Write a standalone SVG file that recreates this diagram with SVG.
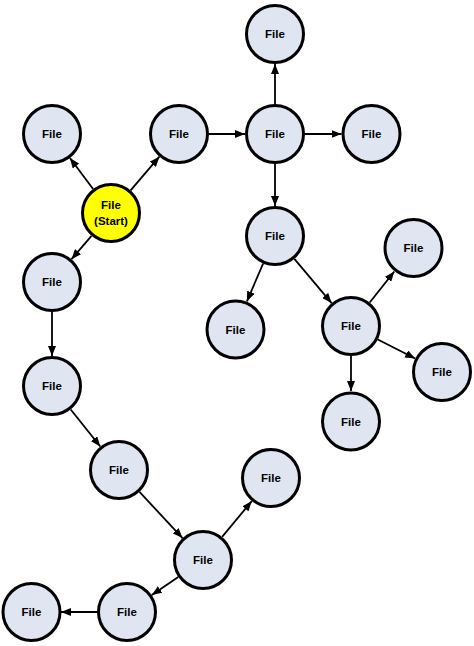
<svg xmlns="http://www.w3.org/2000/svg" width="474" height="646" viewBox="0 0 474 646">
<style>
.n{fill:#dfe6f1;stroke:#000;stroke-width:3}
.s{fill:#ffff00;stroke:#000;stroke-width:3}
.t{font-family:"Liberation Sans",Arial,sans-serif;font-weight:bold;font-size:11.5px;text-anchor:middle;fill:#000}
.e line{stroke:#000;stroke-width:1.8;marker-end:url(#a)}
</style>
<defs>
<marker id="a" markerUnits="userSpaceOnUse" markerWidth="10" markerHeight="8" refX="10" refY="4" orient="auto">
<path d="M0,0 L10,4 L0,8 z" fill="#000"/>
</marker>
</defs>
<g id="connectors" class="e">
<line x1="93.1" y1="189" x2="69.9" y2="158"/>
<line x1="130.6" y1="190.3" x2="159.4" y2="156.7"/>
<line x1="91.5" y1="235.8" x2="71.5" y2="259.2"/>
<line x1="209" y1="134" x2="245" y2="134"/>
<line x1="275" y1="104" x2="275" y2="64"/>
<line x1="305" y1="134" x2="341.5" y2="134"/>
<line x1="275" y1="164" x2="275" y2="206"/>
<line x1="263.1" y1="263.6" x2="246.9" y2="301.4"/>
<line x1="294.4" y1="258.9" x2="331.6" y2="303.1"/>
<line x1="369.7" y1="302.5" x2="394.3" y2="271.5"/>
<line x1="377.8" y1="339.5" x2="415.2" y2="358.5"/>
<line x1="351" y1="356" x2="351" y2="391"/>
<line x1="52" y1="312" x2="52" y2="356"/>
<line x1="70.7" y1="409.5" x2="100.3" y2="446.5"/>
<line x1="139.5" y1="491.9" x2="182.5" y2="538.1"/>
<line x1="222.1" y1="536.9" x2="251.8" y2="501.1"/>
<line x1="178.3" y1="577" x2="151.8" y2="595.1"/>
<line x1="97" y1="612" x2="61" y2="612"/>
</g>
<g id="start"><circle class="s" cx="111" cy="213" r="28.5"/><text class="t" x="111" y="209">File</text><text class="t" x="111" y="225">(Start)</text></g>
<g id="n1"><circle class="n" cx="52" cy="134" r="28.5"/><text class="t" x="52" y="138">File</text></g>
<g id="n2"><circle class="n" cx="179" cy="134" r="28.5"/><text class="t" x="179" y="138">File</text></g>
<g id="n3"><circle class="n" cx="275" cy="134" r="28.5"/><text class="t" x="275" y="138">File</text></g>
<g id="n4"><circle class="n" cx="275" cy="34" r="28.5"/><text class="t" x="275" y="38">File</text></g>
<g id="n5"><circle class="n" cx="371.5" cy="134" r="28.5"/><text class="t" x="371.5" y="138">File</text></g>
<g id="n6"><circle class="n" cx="275" cy="236" r="28.5"/><text class="t" x="275" y="240">File</text></g>
<g id="n7"><circle class="n" cx="235.5" cy="329.5" r="28.5"/><text class="t" x="235.5" y="333.5">File</text></g>
<g id="n8"><circle class="n" cx="351" cy="326" r="28.5"/><text class="t" x="351" y="330">File</text></g>
<g id="n9"><circle class="n" cx="413.5" cy="248" r="28.5"/><text class="t" x="413.5" y="252">File</text></g>
<g id="n10"><circle class="n" cx="442" cy="372" r="28.5"/><text class="t" x="442" y="376">File</text></g>
<g id="n11"><circle class="n" cx="351" cy="421.5" r="28.5"/><text class="t" x="351" y="425.5">File</text></g>
<g id="n12"><circle class="n" cx="52" cy="282" r="28.5"/><text class="t" x="52" y="286">File</text></g>
<g id="n13"><circle class="n" cx="52" cy="386" r="28.5"/><text class="t" x="52" y="390">File</text></g>
<g id="n14"><circle class="n" cx="119" cy="470" r="28.5"/><text class="t" x="119" y="474">File</text></g>
<g id="n15"><circle class="n" cx="271" cy="478" r="28.5"/><text class="t" x="271" y="482">File</text></g>
<g id="n16"><circle class="n" cx="203" cy="560" r="28.5"/><text class="t" x="203" y="564">File</text></g>
<g id="n17"><circle class="n" cx="127" cy="612" r="28.5"/><text class="t" x="127" y="616">File</text></g>
<g id="n18"><circle class="n" cx="31.5" cy="612" r="28.5"/><text class="t" x="31.5" y="616">File</text></g>
</svg>
